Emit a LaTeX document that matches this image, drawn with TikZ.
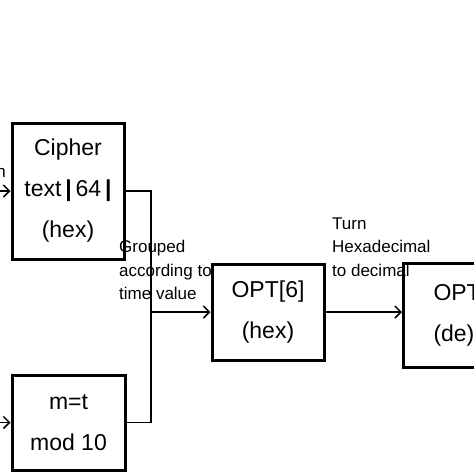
\documentclass[tikz,border=0pt]{standalone}
\usepackage{fontspec}
\setmainfont{Liberation Sans}
\usetikzlibrary{arrows.meta}
\begin{document}
\begin{tikzpicture}[
  x=1pt, y=-1pt,
  proc/.style={draw, line width=3pt, align=center, inner sep=0pt, font=\fontsize{23}{41}\selectfont},
  note/.style={align=left, inner sep=0pt, font=\fontsize{17}{23.5}\selectfont},
  flow/.style={line width=1.5pt},
  >={Straight Barb[length=6pt,width=12pt,line width=1.5pt]}
]
\useasboundingbox (0,0) rectangle (474,474);
\clip (0,0) rectangle (474,474);
\node[proc, minimum width=112pt, minimum height=136pt] (cipher) at (68,191) {Cipher\\text\,\textbf{|}\,64\,\textbf{|}\\(hex)};
\node[proc, minimum width=113pt, minimum height=95pt] (mt) at (68.5,422.5) {m=t\\mod 10};
\node[proc, minimum width=112pt, minimum height=96pt] (opt) at (268,312) {OPT[6]\\(hex)};
\node[proc, anchor=west, minimum width=112pt, minimum height=104pt, text width=52pt, align=left] (dec) at (402,315) {OPT\\(de)};
\coordinate (inA) at (-10,191);
\coordinate (inB) at (-10,422.5);
\coordinate (join) at (151,312);
\node[note, anchor=east] (cut) at (6,173) {n};
\draw[flow,->] (inA) -- (cipher.west);
\draw[flow,->] (inB) -- (mt.west);
\draw[flow] (cipher.east) -| (join);
\draw[flow] (mt.east) -| (join);
\draw[flow,->] (join) -- (opt.west);
\draw[flow,->] (opt.east) -- (opt.east -| dec.west);
\node[note, anchor=west] (group) at (119,270) {Grouped\\according to\\time value};
\node[note, anchor=west] (turn) at (332,247) {Turn\\Hexadecimal\\to decimal};
\end{tikzpicture}
\end{document}
